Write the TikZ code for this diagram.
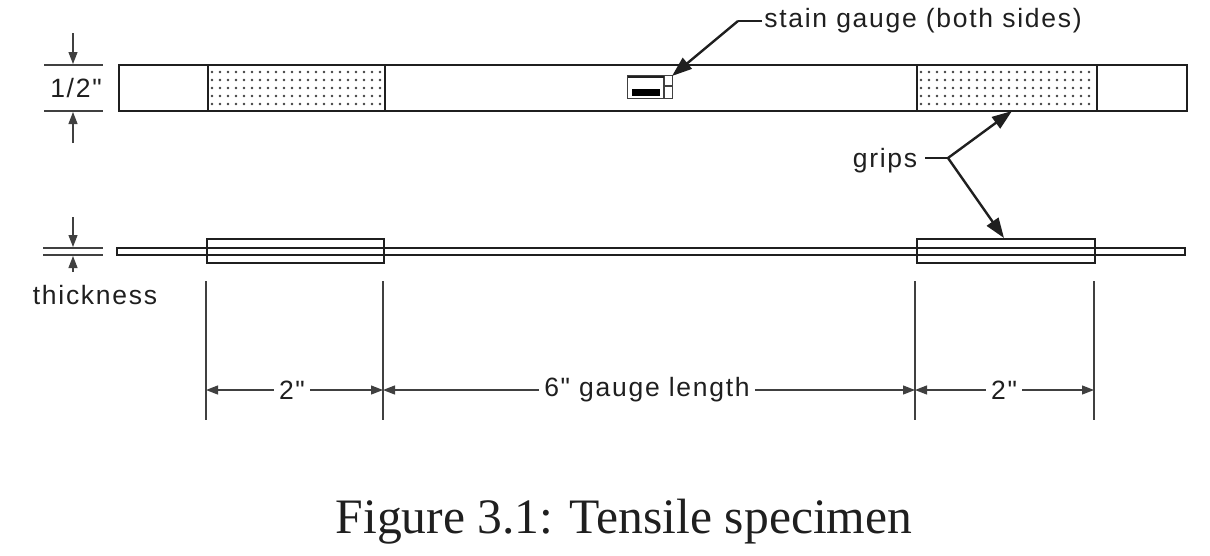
\documentclass[tikz,border=0pt]{standalone}
\usepackage{fontspec}
\setmainfont{Liberation Serif}
\newfontfamily\labelfont[LetterSpace=6.5]{Liberation Sans}
\usetikzlibrary{arrows.meta,calc}
\definecolor{inkgray}{gray}{0.12}
\tikzset{every picture/.style={/utils/exec={\labelfont}}}
\tikzset{outline/.style={draw=inkgray,line width=2.6pt}}
\tikzset{thinline/.style={draw=inkgray!85,line width=1.2pt}}
\tikzset{dimarrow/.style={thinline,-{Triangle[length=12pt,width=9pt]}}}
\tikzset{leader/.style={draw=inkgray,line width=2.4pt,-{Triangle[length=20pt,width=14pt]}}}
\tikzset{label/.style={inner sep=0pt,text=inkgray,font=\fontsize{26.5}{28}\labelfont}}
\tikzset{speck/.style={fill=inkgray!85,circle,inner sep=1pt}}

\begin{document}
\begin{tikzpicture}[x=1pt,y=-1pt]
    \useasboundingbox (0,0) rectangle (1210,555);
    % top view
    \foreach \gx in {212,220,...,380} {
        \foreach \gy in {72,80,88,96,104} {
            \node [speck] at (\gx,\gy) {};
            \node [speck] at (\gx+709,\gy) {};
        }
    }
    \node [outline,minimum width=1068pt,minimum height=46pt,inner sep=0pt] (strip) at (653,88) {};
    \draw [outline] (208,65) -- (208,111) (385,65) -- (385,111);
    \draw [outline] (917,65) -- (917,111) (1097,65) -- (1097,111);
    % gauge on the strip
    \node [thinline,minimum width=45pt,minimum height=23pt,inner sep=0pt] (gauge) at (650,87) {};
    \fill [black] (632,88.5) rectangle (660,95.5);
    \draw [thinline] (664,76) -- (664,98) (664,86) -- (673,86);
    \draw [outline] (628,77) -- (664,77);
    % side view
    \node [outline,minimum width=1068pt,minimum height=7pt,inner sep=0pt] (side) at (651,251.5) {};
    \draw [outline] (207,239) rectangle (384,263);
    \draw [outline] (917,239) rectangle (1095,263);
    % width dimension
    \node [label] (half) at (76,88) {1/2"};
    \draw [thinline] (44,65) -- (103,65) (44,111) -- (103,111);
    \draw [dimarrow] (73,33) -- (73,64);
    \draw [dimarrow] (73,143) -- (73,112);
    % thickness dimension
    \node [label] (thick) at (95,295) {thickness};
    \draw [thinline] (43,248) -- (103,248) (43,255) -- (103,255);
    \draw [dimarrow] (73,217) -- (73,247);
    \draw [dimarrow] (73,272) -- (73,256);
    % extension lines
    \foreach \ex in {206,383,915,1094} {
        \draw [thinline] (\ex,281) -- (\ex,420);
    }
    % length dimensions
    \node [label] (leftgrip) at (292,390) {2"};
    \node [label] (gaugelen) at (647,390) {6" gauge length};
    \node [label] (rightgrip) at (1004,390) {2"};
    \draw [dimarrow] (leftgrip.west) ++(-5,0) -- (206,390);
    \draw [dimarrow] (leftgrip.east) ++(5,0) -- (383,390);
    \draw [dimarrow] (gaugelen.west) ++(-5,0) -- (383,390);
    \draw [dimarrow] (gaugelen.east) ++(5,0) -- (915,390);
    \draw [dimarrow] (rightgrip.west) ++(-5,0) -- (915,390);
    \draw [dimarrow] (rightgrip.east) ++(5,0) -- (1094,390);
    % callouts
    \node [label] (stain) at (923,21) {stain gauge (both sides)};
    \coordinate (bend) at (738,21);
    \draw [outline] (stain.west) ++(-2,0) -- (bend);
    \draw [leader] (bend) -- (672,76);
    \node [label] (grips) at (885,161) {grips};
    \coordinate (fork) at (948,158);
    \draw [outline] (925,158) -- (fork);
    \draw [leader] (fork) -- (1012,111);
    \draw [leader] (fork) -- (1004,238);
    % caption
    \node [inner sep=0pt,text=inkgray,font=\fontsize{49.6}{52}\rmfamily] (caption) at (624,522) {Figure 3.1: Tensile specimen};
\end{tikzpicture}
\end{document}
